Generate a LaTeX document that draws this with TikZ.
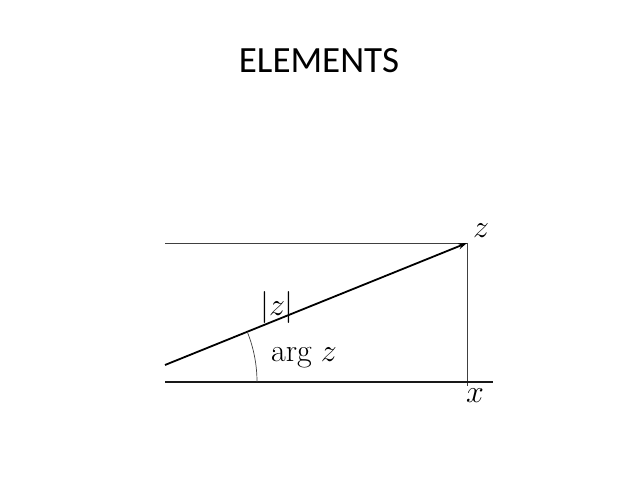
\RequirePackage{fix-cm}
\documentclass[tikz,border=0pt]{standalone}
\usepackage{fontspec}
\newfontfamily\titlefont{Carlito}
\usetikzlibrary{positioning,calc,arrows.meta}
\tikzstyle{thinline} = [draw=black!75, line width=0.9pt]
\tikzstyle{axisline} = [draw=black!90, line width=1.8pt]
\tikzstyle{vecline} = [draw=black, line width=1.8pt, -{Stealth[length=9pt,width=6pt]}]
\tikzstyle{mathlabel} = [inner sep=0pt, font=\fontsize{32}{38}\selectfont]

\begin{document}
\begin{tikzpicture}[x=1pt,y=1pt]
		\useasboundingbox (0,0) rectangle (638,478);

		% title
		\node[anchor=base, inner sep=0pt, font=\titlefont\fontsize{37}{44}\selectfont] (title) at (319,405) {ELEMENTS};

		% anchor points
		\coordinate (topleft) at (165,235);
		\coordinate (zpt) at (467,235);
		\coordinate (origin) at (165,96);
		\coordinate (xpt) at (467,96);
		\coordinate (axisend) at (493,96);
		\coordinate (vecstart) at (165,113);
		\coordinate (xbelow) at (467,92);
		\coordinate (pole) at (123,96);

		% lines
		\draw[thinline] (topleft) -- (zpt);
		\draw[thinline] (zpt) -- (xbelow);
		\draw[axisline] (origin) -- (axisend);
		\draw[vecline] (vecstart) -- (zpt);

		% angle
		\draw[thinline, line width=0.7pt] ($(pole)+(0:134)$) arc[start angle=0, end angle=22, radius=134];

		% labels
		\node[mathlabel] (zlabel) at (481,247) {$z$};
		\node[mathlabel] (xlabel) at (475,82) {$x$};
		\node[mathlabel] (modlabel) at (277,170) {$|z|$};
		\node[mathlabel, anchor=base] (arglabel) at (304,116) {$\arg\mkern2mu z$};
	\end{tikzpicture}
\end{document}
